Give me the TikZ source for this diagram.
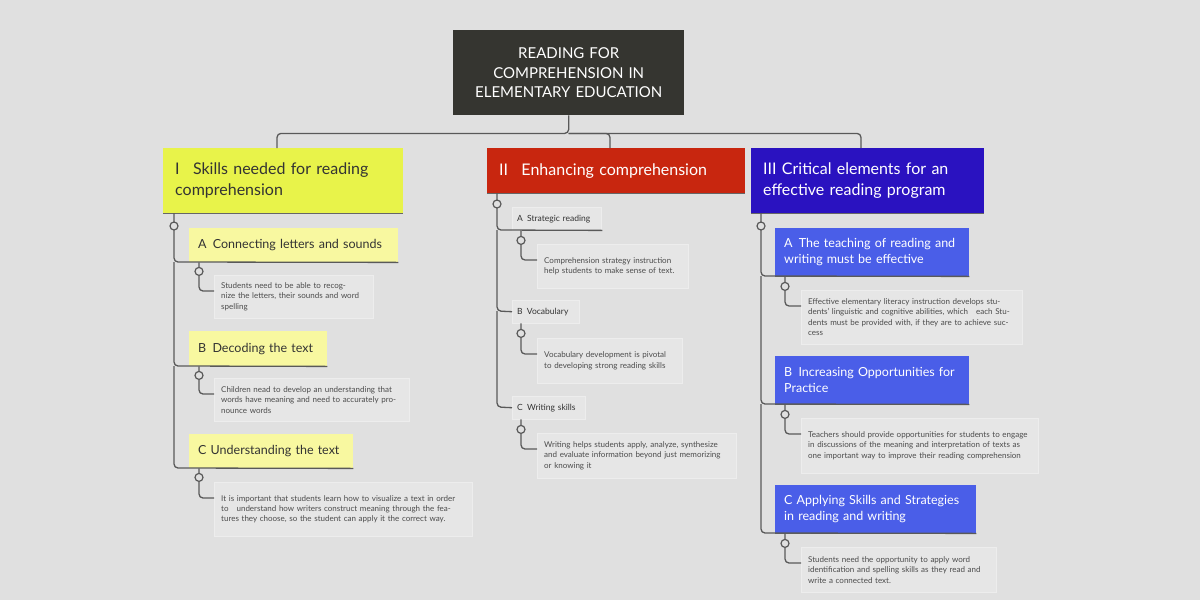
\documentclass[tikz,border=0pt]{standalone}
\usepackage{fontspec}
\setmainfont{Lato}
\usetikzlibrary{calc}
\definecolor{bg}{HTML}{E0E0E0}
\definecolor{rootc}{HTML}{353530}
\definecolor{yel}{HTML}{E8F34A}
\definecolor{lyel}{HTML}{F8F8A0}
\definecolor{redc}{HTML}{C8260F}
\definecolor{navy}{HTML}{2A12C0}
\definecolor{blu}{HTML}{4A5EE8}
\definecolor{notec}{HTML}{E6E6E6}
\definecolor{graybox}{HTML}{E6E6E6}
\definecolor{txt}{HTML}{333333}
\begin{document}
\begin{tikzpicture}[x=1pt,y=-1pt,
 bx/.style={anchor=north west,inner ysep=0pt,align=left},
 f/.style={font=\fontsize{#1}{1.3\dimexpr#1pt\relax}\selectfont},
 conn/.style={draw=black!65,line width=1.3pt,rounded corners=4pt},
 knob/.style={circle,draw=black!65,line width=1.2pt,fill=bg,minimum size=8pt,inner sep=0pt},
 note/.style={bx,fill=notec,draw=black!7,text=black!70,inner xsep=7pt,f=8},
 under/.style={draw=black!60,line width=1.3pt}]
\fill[bg] (0,0) rectangle (1200,600);
\useasboundingbox (0,0) rectangle (1200,600);
% root
\node[bx,fill=rootc,text=white,align=center,minimum width=231pt,minimum height=85pt,text width=211pt,inner xsep=10pt,f=15] (root) at (453,30) {READING FOR\\COMPREHENSION IN\\ELEMENTARY EDUCATION};
% level 1
\node[bx,fill=yel,text=txt,minimum width=228pt,minimum height=65pt,text width=216pt,inner xsep=12pt,f=16] (I) at (163,148) {I\enspace\ Skills needed for reading comprehension};
\node[bx,fill=redc,text=white,minimum width=246pt,minimum height=45pt,text width=234pt,inner xsep=12pt,f=16] (II) at (487,148) {II\enspace\ Enhancing comprehension};
\node[bx,fill=navy,text=white,minimum width=221pt,minimum height=65pt,text width=209pt,inner xsep=12pt,f=16] (III) at (751,148) {III Critical elements for an effective reading program};
\draw[under] (I.south west) -- (I.south east);
\draw[under] (II.south west) -- (II.south east);
\draw[under] (III.south west) -- (III.south east);
% root connectors
\coordinate (rb) at ($(root.south)+(0,18)$);
\draw[conn] (root.south) -- (rb) -| (277,148);
\draw[conn] (rb) -| (610,148);
\draw[conn] (rb) -| (861,148);
% ---- branch I
\node[bx,fill=lyel,text=txt,minimum width=203pt,minimum height=34pt,text width=191pt,inner xsep=9pt,f=12.5] (IA) at (189,228) {A\enspace Connecting letters and sounds};
\node[bx,fill=lyel,text=txt,minimum width=132pt,minimum height=35pt,text width=120pt,inner xsep=9pt,f=12.5] (IB) at (189,331) {B\enspace Decoding the text};
\node[bx,fill=lyel,text=txt,minimum width=158pt,minimum height=34pt,text width=146pt,inner xsep=9pt,f=12.5] (IC) at (189,434) {C Understanding the text};
\node[note,minimum width=159pt,minimum height=43pt,text width=145pt] (IAn) at (214,275) {Students need to be able to recognize the letters, their sounds and word spelling};
\node[note,minimum width=195pt,minimum height=43pt,text width=181pt] (IBn) at (214,378) {Children nead to develop an understanding that words have meaning and need to accurately pronounce words};
\node[note,minimum width=258pt,minimum height=54pt,text width=244pt] (ICn) at (214,482) {It is important that students learn how to visualize a text in order to\quad understand how writers construct meaning through the features they choose, so the student can apply it the correct way.};
\draw[conn] (174,213) -- (174,262) -- (IA.south east);
\draw[conn] (174,262) -- (174,366) -- (IB.south east);
\draw[conn] (174,366) -- (174,468) -- (IC.south east);
\node[knob] (kI) at (174,226) {};
\foreach \c/\n in {IA/IAn,IB/IBn,IC/ICn}{
 \draw[conn] (\c.south west) ++(10,0) |- ($(\n.north west)+(0,16)$);
 \node[knob] at ($(\c.south west)+(10,9)$) {};}
% ---- branch II
\node[bx,fill=graybox,draw=black!7,text=txt,minimum width=89pt,minimum height=23pt,text width=79pt,inner xsep=5pt,f=8.5] (IIA) at (512,207) {A\enspace Strategic reading};
\node[bx,fill=graybox,draw=black!7,text=txt,minimum width=67pt,minimum height=23pt,text width=57pt,inner xsep=5pt,f=8.5] (IIB) at (512,300) {B\enspace Vocabulary};
\node[bx,fill=graybox,draw=black!7,text=txt,minimum width=73pt,minimum height=23pt,text width=63pt,inner xsep=5pt,f=8.5] (IIC) at (512,396) {C\enspace Writing skills};
\node[note,minimum width=151pt,minimum height=44pt,text width=137pt] (IIAn) at (537,244) {Comprehension strategy instruction help students to make sense of text.};
\node[note,minimum width=145pt,minimum height=45pt,text width=131pt] (IIBn) at (537,338) {Vocabulary development is pivotal to developing strong reading skills};
\node[note,minimum width=199pt,minimum height=45pt,text width=185pt] (IICn) at (537,433) {Writing helps students apply, analyze, synthesize and evaluate information beyond just memorizing or knowing it};
\draw[conn] (497,193) -- (497,230) -- ($(IIA.south east)+(1,0)$);
\draw[conn] (497,230) -- (497,311) -- (IIB.west);
\draw[conn] (497,311) -- (497,407) -- (IIC.west);
\node[knob] at (497,204) {};
\foreach \c/\n in {IIA/IIAn,IIB/IIBn,IIC/IICn}{
 \draw[conn] (\c.south west) ++(9,0) |- ($(\n.north west)+(0,16)$);
 \node[knob] at ($(\c.south west)+(9,10)$) {};}
% ---- branch III
\node[bx,fill=blu,text=white,minimum width=188pt,minimum height=48pt,text width=176pt,inner xsep=9pt,f=12.5] (IIIA) at (775,228) {A\enspace The teaching of reading and writing must be effective};
\node[bx,fill=blu,text=white,minimum width=188pt,minimum height=48pt,text width=176pt,inner xsep=9pt,f=12.5] (IIIB) at (775,356) {B\enspace Increasing Opportunities for Practice};
\node[bx,fill=blu,text=white,minimum width=195pt,minimum height=48pt,text width=183pt,inner xsep=9pt,f=12.5] (IIIC) at (775,485) {C Applying Skills and Strategies in reading and writing};
\draw[under] (IIIA.south west) -- (IIIA.south east);
\draw[under] (IIIB.south west) -- (IIIB.south east);
\draw[under] (IIIC.south west) -- (IIIC.south east);
\node[note,minimum width=221pt,minimum height=54pt,text width=207pt] (IIIAn) at (801,290) {Effective elementary literacy instruction develops students' linguistic and cognitive abilities, which\quad each Students must be provided with, if they are to achieve success};
\node[note,minimum width=237pt,minimum height=55pt,text width=223pt] (IIIBn) at (801,418) {Teachers should provide opportunities for students to engage in discussions of the meaning and interpretation of texts as one important way to improve their reading comprehension};
\node[note,minimum width=195pt,minimum height=45pt,text width=181pt] (IIICn) at (801,547) {Students need the opportunity to apply word identification and spelling skills as they read and write a connected text.};
\draw[conn] (761,213) -- (761,276) -- (IIIA.south east);
\draw[conn] (761,276) -- (761,404) -- (IIIB.south east);
\draw[conn] (761,404) -- (761,533) -- (IIIC.south east);
\node[knob] at (761,226) {};
\foreach \c/\n in {IIIA/IIIAn,IIIB/IIIBn,IIIC/IIICn}{
 \draw[conn] (\c.south west) ++(10,0) |- ($(\n.north west)+(0,16)$);
 \node[knob] at ($(\c.south west)+(10,10)$) {};}
\end{tikzpicture}
\end{document}
